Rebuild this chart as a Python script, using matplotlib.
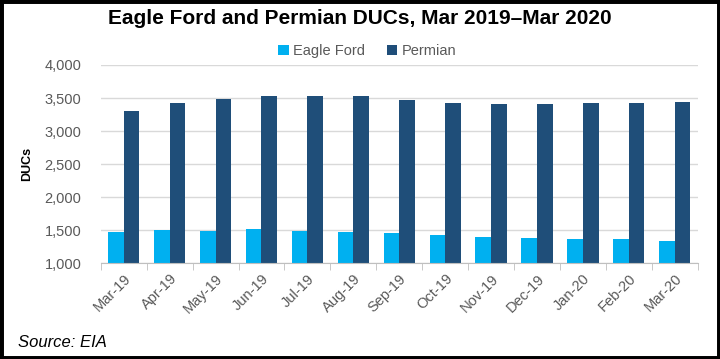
import matplotlib
matplotlib.use("Agg")
import matplotlib.pyplot as plt
import numpy as np
from matplotlib.patches import Rectangle
from matplotlib.ticker import FuncFormatter, MultipleLocator

months = ["Mar-19", "Apr-19", "May-19", "Jun-19", "Jul-19", "Aug-19", "Sep-19",
          "Oct-19", "Nov-19", "Dec-19", "Jan-20", "Feb-20", "Mar-20"]
eagle_ford = [1465, 1496, 1481, 1511, 1481, 1465, 1450, 1420, 1390, 1375, 1359, 1359, 1329]
permian = [3302, 3423, 3484, 3530, 3530, 3530, 3469, 3423, 3408, 3408, 3423, 3423, 3438]

FONT = ["Liberation Sans", "DejaVu Sans"]
GRAY = "#595959"

plt.rcParams["font.family"] = FONT

fig = plt.figure(figsize=(7.2, 3.59), dpi=100, facecolor="white")
ax = fig.add_axes([0.140, 0.267, 0.829, 0.552])

x = np.arange(len(months))
w = 0.34
ax.bar(x - w / 2, eagle_ford, width=w, color="#00B0F0", label="Eagle Ford", zorder=3)
ax.bar(x + w / 2, permian, width=w, color="#1F4E79", label="Permian", zorder=3)

ax.set_xlim(-0.5, len(months) - 0.5)
ax.set_ylim(1000, 4000)
ax.yaxis.set_major_locator(MultipleLocator(500))
ax.yaxis.set_major_formatter(FuncFormatter(lambda v, _: f"{v:,.0f}"))
ax.grid(axis="y", color="#d9d9d9", linewidth=1, zorder=0)

for side in ("top", "right", "left"):
    ax.spines[side].set_visible(False)
ax.spines["bottom"].set_color("#bfbfbf")
ax.spines["bottom"].set_zorder(4)

ax.set_xticks(x)
ax.set_xticklabels(months, rotation=45, ha="right", va="top",
                   rotation_mode="anchor", fontsize=10.5, color=GRAY)
ax.set_xticks(np.arange(-0.5, len(months)), minor=True)
ax.tick_params(axis="x", which="major", length=0, pad=6)
ax.tick_params(axis="x", which="minor", length=5, color="#bfbfbf")
ax.tick_params(axis="y", length=0, labelsize=10.5, labelcolor=GRAY, pad=14)

ax.set_ylabel("DUCs", fontsize=9, fontweight="bold", va="center")
ax.yaxis.set_label_coords(-0.124, 0.5)

fig.text(0.5, 0.948, "Eagle Ford and Permian DUCs, Mar 2019\u2013Mar 2020",
         ha="center", va="center", fontsize=15, fontweight="bold")
fig.legend(loc="center", bbox_to_anchor=(0.51, 0.858), ncol=2, frameon=False,
           fontsize=10.5, handlelength=0.7, handleheight=0.7, handletextpad=0.3,
           columnspacing=1.5, labelcolor=GRAY)
fig.text(0.025, 0.045, "Source: EIA", ha="left", va="center",
         fontsize=12, style="italic")

fig.add_artist(Rectangle((0, 0), 1, 1, transform=fig.transFigure,
                         fill=False, edgecolor="black", linewidth=5))

fig.savefig("out.png", dpi=100, facecolor="white")
